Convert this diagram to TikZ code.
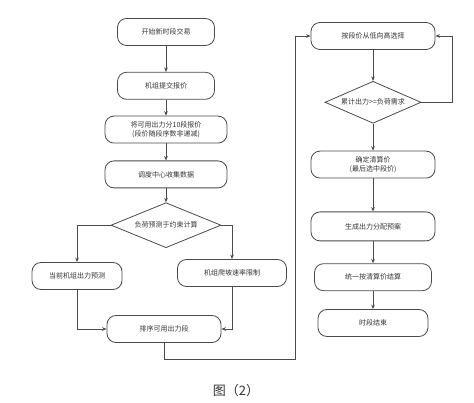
\documentclass[tikz,border=0pt]{standalone}
\usepackage{fontspec}
\newfontfamily\cjk{Noto Sans CJK SC}
\usetikzlibrary{positioning,shapes.geometric,arrows.meta}

\definecolor{linegray}{HTML}{4A4A4A}
\definecolor{textgray}{HTML}{333333}

\tikzset{
  stepbox/.style={draw=linegray, line width=0.8pt, rounded corners=9pt,
    minimum height=27pt, inner sep=1pt, align=center, text=textgray,
    font=\cjk\fontsize{7}{9}\selectfont},
  testbox/.style={draw=linegray, line width=0.8pt, diamond, inner sep=0pt,
    text=textgray, font=\cjk\fontsize{7}{9}\selectfont},
  flow/.style={draw=linegray, line width=0.8pt, -{Stealth[length=4.5pt,width=3.6pt]}}
}

\begin{document}
\begin{tikzpicture}[x=1pt, y=1pt]
  \useasboundingbox (0,0) rectangle (474,-403);

  \node[stepbox, minimum width=97pt] (start) at (166,-32) {开始新时段交易};
  \node[stepbox, minimum width=97pt] (bid) [below=26pt of start] {机组提交报价};
  \node[stepbox, minimum width=122pt] (seg) [below=16pt of bid] {将可用出力分10段报价\\(段价随段序数非递减)};
  \node[stepbox, minimum width=122pt] (collect) [below=17pt of seg] {调度中心收集数据};
  \node[testbox, aspect=2.44, minimum width=110pt, minimum height=45pt] (load) [below=14pt of collect] {负荷预测于约束计算};
  \node[stepbox, minimum width=90pt] (cur) at (77,-276) {当前机组出力预测};
  \node[stepbox, minimum width=109pt] (ramp) at (232,-273) {机组爬坡速率限制};
  \node[stepbox, minimum width=114pt] (sort) at (164,-329) {排序可用出力段};

  \node[stepbox, minimum width=124pt] (pick) at (373,-36) {按段价从低向高选择};
  \node[testbox, aspect=2.29, minimum width=96pt, minimum height=42pt] (sum) [below=31pt of pick] {累计出力>=负荷需求};
  \node[stepbox, minimum width=124pt] (clear) [below=27pt of sum] {确定清算价\\(最后选中段价)};
  \node[stepbox, minimum width=124pt, minimum height=29pt] (plan) [below=33pt of clear] {生成出力分配预案};
  \node[stepbox, minimum width=117pt] (settle) [below=22pt of plan] {统一按清算价结算};
  \node[stepbox, minimum width=110pt] (end) [below=18pt of settle] {时段结束};

  \coordinate (turn) at (295,-359);

  \draw[flow] (start) -- (bid);
  \draw[flow] (bid) -- (seg);
  \draw[flow] (seg) -- (collect);
  \draw[flow] (collect) -- (load);
  \draw[flow] (load.west) -| (cur.north);
  \draw[flow] (load.east) -| (ramp.north);
  \draw[flow] (cur.south) |- (sort.west);
  \draw[flow] (ramp.south) |- (sort.east);
  \draw[flow] (sort.south) |- (turn) |- (pick.west);
  \draw[flow] (pick) -- (sum);
  \draw[flow] (sum.east) -- ++(31,0) |- (pick.east);
  \draw[flow] (sum) -- (clear);
  \draw[flow] (clear) -- (plan);
  \draw[flow] (plan) -- (settle);
  \draw[flow] (settle) -- (end);

  \node[font=\cjk\fontsize{13}{15}\selectfont, text=black!80] (caption) at (236,-391) {图（2）};
\end{tikzpicture}
\end{document}
